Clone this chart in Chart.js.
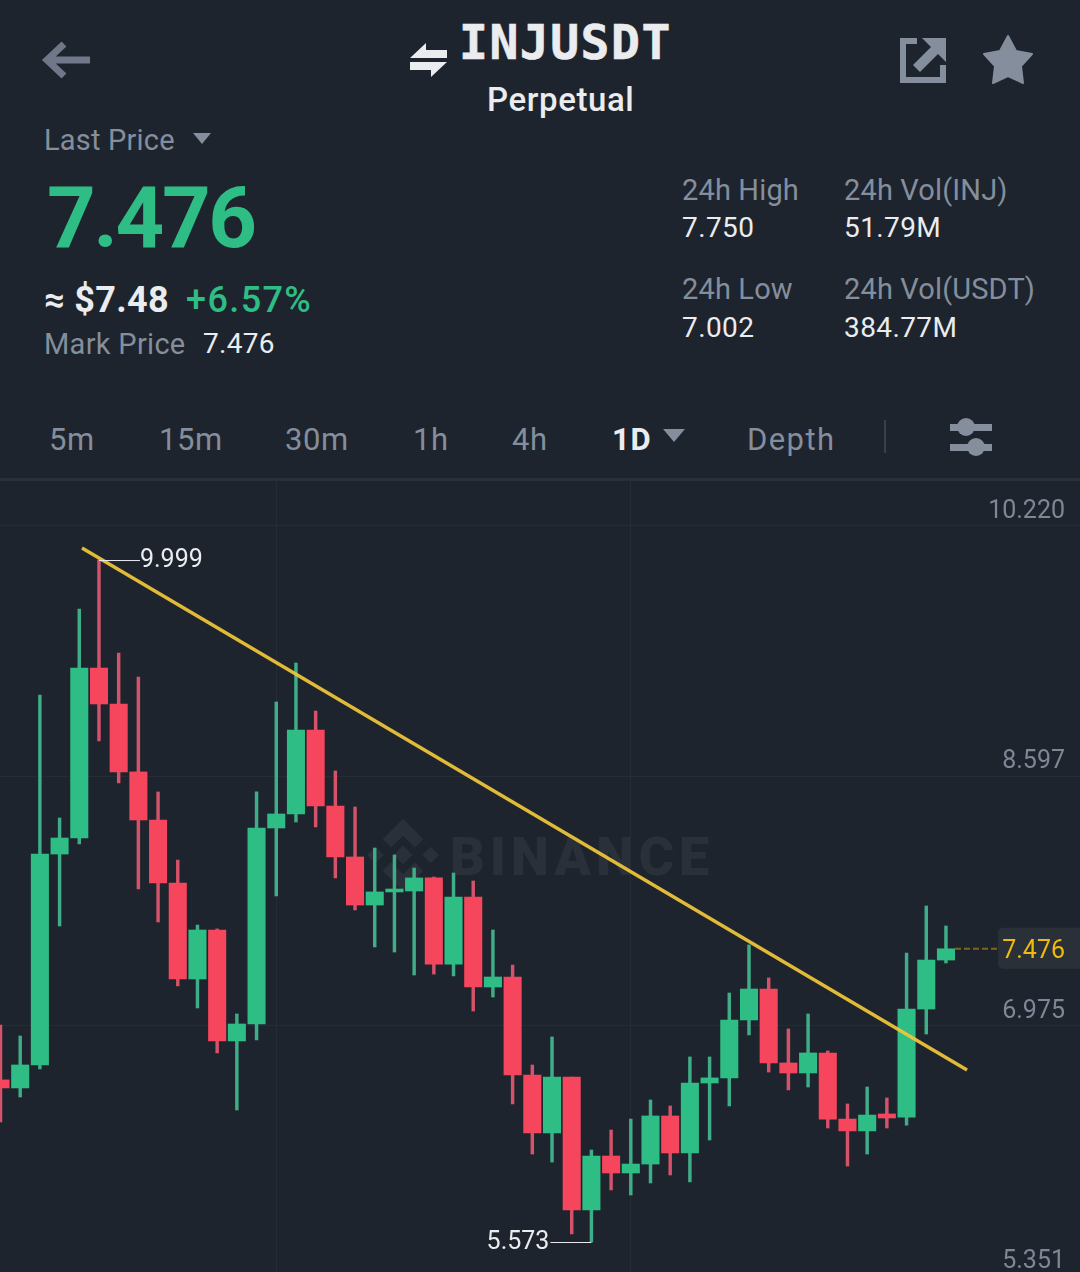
<!DOCTYPE html>
<html>
<head>
<meta charset="utf-8">
<title>INJUSDT Perpetual</title>
<script src="https://cdn.jsdelivr.net/npm/chart.js@4"></script>
<style>
  html, body { margin: 0; padding: 0; background: #1e242d; width: 1080px; height: 1272px; overflow: hidden; }
  body { position: relative; font-family: Roboto, sans-serif; }
  .t { position: absolute; white-space: nowrap; transform: translate(-1px, -50%); line-height: 1; }
  .grey { color: #848e9c; }
  .white { color: #eaecef; }
  .green { color: #2ebd85; }
  .stat { font-size: 29px; letter-spacing: 0.15px; }
  .stat.white { font-size: 28px; letter-spacing: 0.4px; }
  .tab { font-size: 31px; color: #848e9c; letter-spacing: 0.6px; }
  svg { position: absolute; overflow: visible; }
  #rule { position: absolute; left: 0; top: 478px; width: 1080px; height: 3px; background: #2a3038; }
  #sep { position: absolute; left: 884px; top: 420px; width: 2px; height: 33px; background: #3a404a; }
  #wrap { position: absolute; left: 0; top: 480px; width: 1080px; height: 792px; }
  #mark { position: absolute; left: 450px; top: 857px; transform: translateY(-50%); font-size: 54px; font-weight: 900; color: #2a303a; letter-spacing: 4.9px; line-height: 1; }
  canvas { position: absolute; left: 0; top: 0; }
</style>
</head>
<body>
<svg style="left:0;top:0" width="100" height="100"><path d="M90 60H48M64 44L47 60L64 76" fill="none" stroke="#6f7789" stroke-width="7"/></svg>
<svg style="left:0;top:0" width="460" height="100" fill="#eaecef">
  <path d="M410 58L426 43V50H447V58Z"/>
  <path d="M410 62H447L431 77V70H410Z"/>
</svg>
<div class="t white" style="left:460px;top:42px;font:700 48px 'DejaVu Sans Mono',monospace;letter-spacing:1.5px;-webkit-text-stroke:0.6px #eaecef">INJUSDT</div>
<div class="t white" style="left:488px;top:99px;font-size:33px;font-weight:500;letter-spacing:0.6px">Perpetual</div>
<svg style="left:0;top:0" width="1080" height="100">
  <path d="M917 41H903V80H943V65" fill="none" stroke="#848e9c" stroke-width="6"/>
  <path d="M922 38H946V62L938 54L920 72L913 65L931 47Z" fill="#848e9c"/>
  <path d="M1008 36L1016 51L1032 54L1021 66L1023 83L1008 76L993 83L995 66L984 54L1000 51Z" fill="#848e9c" stroke="#848e9c" stroke-width="2" stroke-linejoin="round"/>
</svg>

<div class="t grey" style="left:45px;top:140px;font-size:29px;letter-spacing:0.2px">Last Price</div>
<svg style="left:0;top:0" width="300" height="200"><path d="M193 133H211L202 144Z" fill="#848e9c"/></svg>
<div class="t green" style="left:48px;top:218px;font-size:85px;font-weight:700;letter-spacing:-2.4px">7.476</div>
<div class="t white" style="left:45px;top:300px;font-size:36px;font-weight:700;letter-spacing:0.3px">≈ $7.48</div>
<div class="t green" style="left:187px;top:300px;font-size:36px;font-weight:500;letter-spacing:1.4px">+6.57%</div>
<div class="t grey" style="left:45px;top:344px;font-size:29px;letter-spacing:0.3px">Mark Price</div>
<div class="t white" style="left:204px;top:344px;font-size:28px;letter-spacing:0.3px">7.476</div>

<div class="t grey stat" style="left:683px;top:190px">24h High</div>
<div class="t white stat" style="left:683px;top:228px">7.750</div>
<div class="t grey stat" style="left:845px;top:190px">24h Vol(INJ)</div>
<div class="t white stat" style="left:845px;top:228px">51.79M</div>
<div class="t grey stat" style="left:683px;top:289px">24h Low</div>
<div class="t white stat" style="left:683px;top:328px">7.002</div>
<div class="t grey stat" style="left:845px;top:289px">24h Vol(USDT)</div>
<div class="t white stat" style="left:845px;top:328px">384.77M</div>

<div class="t tab" style="left:50px;top:439px">5m</div>
<div class="t tab" style="left:160px;top:439px">15m</div>
<div class="t tab" style="left:286px;top:439px">30m</div>
<div class="t tab" style="left:414px;top:439px">1h</div>
<div class="t tab" style="left:513px;top:439px">4h</div>
<div class="t tab" style="left:613px;top:439px;color:#eaecef;font-weight:700">1D</div>
<svg style="left:0;top:0" width="1080" height="470">
  <path d="M663 429H685L674 442Z" fill="#848e9c"/>
  <g fill="#848e9c">
    <rect x="950" y="424" width="42" height="7"/><circle cx="966" cy="427" r="9"/>
    <rect x="950" y="444" width="42" height="7"/><circle cx="976" cy="447" r="9"/>
  </g>
</svg>
<div class="t tab" style="left:748px;top:439px;letter-spacing:1.4px">Depth</div>
<div id="sep"></div>
<div id="rule"></div>

<svg style="left:367px;top:819px" width="72" height="72" viewBox="0 0 32 32" fill="#2a303a">
  <path d="M16 0L25 9L21.3 12.7L16 7.4L10.7 12.7L7 9Z"/>
  <path d="M16 32L25 23L21.3 19.3L16 24.6L10.7 19.3L7 23Z"/>
  <path d="M0 16L3.7 12.3L7.4 16L3.7 19.7Z"/>
  <path d="M32 16L28.3 12.3L24.6 16L28.3 19.7Z"/>
  <path d="M16 11.8L20.2 16L16 20.2L11.8 16Z"/>
</svg>
<div id="mark">BINANCE</div>

<div id="wrap"><canvas id="chart" width="1080" height="792"></canvas></div>

<script>
// Daily candles, oldest first
const opens = [6.625,6.573,6.722,8.091,8.195,9.298,9.065,8.624,8.312,7.903,7.280,7.598,6.878,6.988,8.260,8.351,8.896,8.403,8.072,7.760,7.845,7.851,7.936,7.377,7.812,7.228,7.293,6.657,6.281,6.644,5.781,6.131,6.021,6.079,6.391,6.151,6.605,6.638,7.014,7.215,6.735,6.670,6.800,6.371,6.294,6.404,6.384,7.085,7.403];
const closes = [6.573,6.722,8.091,8.195,9.298,9.065,8.624,8.312,7.903,7.280,7.598,6.878,6.988,8.260,8.351,8.896,8.403,8.072,7.760,7.845,7.864,7.936,7.377,7.812,7.228,7.293,6.657,6.281,6.644,5.781,6.131,6.021,6.079,6.391,6.151,6.605,6.638,7.014,7.215,6.735,6.670,6.800,6.371,6.294,6.397,6.378,7.085,7.403,7.476];
const highs = [6.981,6.910,9.123,8.325,9.681,9.999,9.396,9.240,8.494,8.052,7.630,7.605,7.053,8.494,9.078,9.331,9.019,8.630,8.396,8.130,8.085,8.000,7.942,7.968,7.916,7.598,7.371,6.722,6.904,6.644,6.170,6.300,6.371,6.495,6.456,6.774,6.774,7.189,7.501,7.287,6.956,7.053,6.813,6.469,6.579,6.508,7.449,7.754,7.624];
const lows = [6.352,6.514,6.696,7.624,8.156,8.825,8.552,7.864,7.650,7.235,7.092,6.800,6.430,6.884,7.819,8.299,8.267,7.936,7.728,7.488,7.455,7.306,7.312,7.300,7.072,7.163,6.469,6.144,6.092,5.625,5.573,5.911,5.878,5.956,6.008,5.963,6.235,6.456,6.917,6.676,6.560,6.579,6.313,6.066,6.144,6.313,6.332,6.923,7.384];

// Price axis and time axis marks
const priceTicks = [10.220, 8.597, 6.975, 5.351];
const timeGridCandles = [14, 32];

// Hand-drawn resistance line: [candle position, price] at each end
const trendStart = [4.138, 10.077];
const trendEnd = [49.07, 6.689];

const UP = '#2ebd85', DOWN = '#f6465d';
const UP_WICK = '#3fae88', DOWN_WICK = '#d4526a';
const FONT = 'Roboto, sans-serif';
const isUp = i => closes[i] >= opens[i];

// Session high / low call-outs and the live price tag on the right edge
const overlay = {
  id: 'overlay',
  afterDatasetsDraw(chart) {
    const { ctx, scales: { x, y }, chartArea } = chart;
    const last = closes[closes.length - 1];
    const callout = (i, value, toRight) => {
      const px = x.getPixelForValue(i), py = y.getPixelForValue(value);
      const end = px + (toRight ? 41 : -41);
      ctx.strokeStyle = '#eaecef'; ctx.lineWidth = 1;
      ctx.beginPath(); ctx.moveTo(px, py + 0.5); ctx.lineTo(end, py + 0.5); ctx.stroke();
      ctx.fillStyle = '#eaecef';
      ctx.font = '25px ' + FONT;
      ctx.textBaseline = 'middle';
      ctx.textAlign = toRight ? 'left' : 'right';
      ctx.fillText(value.toFixed(3), end + (toRight ? 0 : -1), py + 1);
    };
    const hi = Math.max(...highs), lo = Math.min(...lows);
    callout(highs.indexOf(hi), hi, true);
    callout(lows.indexOf(lo), lo, false);

    const lastX = x.getPixelForValue(closes.length - 1);
    const py = y.getPixelForValue(last);
    ctx.save();
    ctx.strokeStyle = 'rgba(240,185,11,0.45)'; ctx.lineWidth = 2; ctx.setLineDash([6, 3]);
    ctx.beginPath(); ctx.moveTo(lastX + 9, py); ctx.lineTo(998, py); ctx.stroke();
    ctx.restore();
    ctx.fillStyle = '#2a3038';
    ctx.beginPath(); ctx.roundRect(998, py - 21, chartArea.right - 998 + 4, 41, 5); ctx.fill();
    ctx.fillStyle = '#f0b90b';
    ctx.font = '25px ' + FONT;
    ctx.textAlign = 'right'; ctx.textBaseline = 'middle';
    ctx.fillText(last.toFixed(3), 1065, py + 3);
  }
};

new Chart(document.getElementById('chart'), {
  type: 'bar',
  data: {
    datasets: [
      {
        type: 'line',
        order: 0,
        data: [{ x: trendStart[0], y: trendStart[1] }, { x: trendEnd[0], y: trendEnd[1] }],
        borderColor: 'rgba(242,200,58,0.92)',
        borderWidth: 3.4,
        pointRadius: 0,
        tension: 0
      },
      {
        order: 1,
        grouped: false,
        barThickness: 17.4,
        borderWidth: 0,
        data: opens.map((o, i) => ({ x: i, y: [o, closes[i]] })),
        backgroundColor: opens.map((_, i) => isUp(i) ? UP : DOWN)
      },
      {
        order: 2,
        grouped: false,
        barThickness: 2.8,
        borderWidth: 0,
        data: highs.map((h, i) => ({ x: i, y: [lows[i], h] })),
        backgroundColor: highs.map((_, i) => isUp(i) ? UP_WICK : DOWN_WICK)
      }
    ]
  },
  options: {
    responsive: false,
    animation: false,
    layout: { padding: 0 },
    plugins: { legend: { display: false }, tooltip: { enabled: false } },
    scales: {
      x: {
        type: 'linear',
        offset: false,
        min: -0.025,
        max: 54.805,
        afterBuildTicks(scale) { scale.ticks = timeGridCandles.map(value => ({ value })); },
        afterFit(scale) { scale.height = 0; scale.paddingLeft = 0; scale.paddingRight = 0; },
        grid: { offset: false, color: '#262c35', lineWidth: 1, drawTicks: false },
        border: { display: false },
        ticks: { display: false }
      },
      y: {
        position: 'right',
        min: 5.3784,
        max: 10.5185,
        afterBuildTicks(scale) { scale.ticks = priceTicks.map(value => ({ value })); },
        afterFit(scale) { scale.width = 0; scale.paddingTop = 0; scale.paddingBottom = 0; },
        grid: { color: '#262c35', lineWidth: 1, drawTicks: false },
        border: { display: false },
        ticks: {
          mirror: true,
          padding: -15,
          labelOffset: -14,
          autoSkip: false,
          color: '#7f8796',
          font: { family: FONT, size: 25 },
          callback: value => value.toFixed(3)
        }
      }
    }
  },
  plugins: [overlay]
});
</script>
</body>
</html>
